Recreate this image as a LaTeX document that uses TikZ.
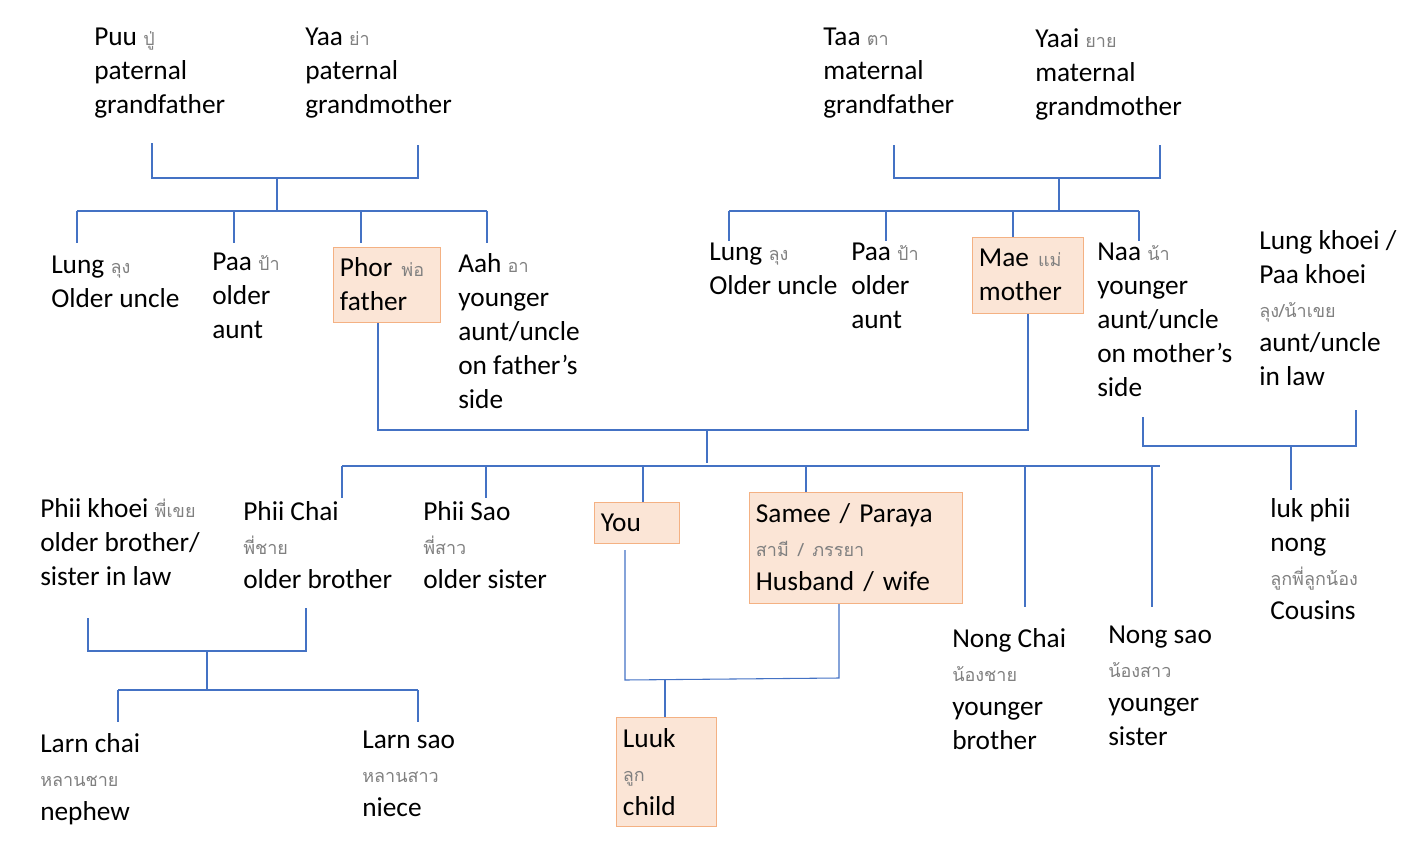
\documentclass[tikz,border=0pt]{standalone}
\usepackage{fontspec}
\setmainfont{Carlito}
\newfontfamily\thaifont[Script=Thai]{Loma}
\usetikzlibrary{backgrounds}
\definecolor{linkblue}{HTML}{4472C4}
\definecolor{boxfill}{HTML}{FBE5D6}
\definecolor{boxline}{HTML}{F4B183}
\newcommand{\thai}[1]{{\thaifont\fontsize{13.5}{15}\selectfont\color{gray}#1}}
\begin{document}
\begin{tikzpicture}[x=0.75pt,y=-0.75pt,
	word/.style={anchor=north west,inner sep=0pt,align=left,
		font=\fontsize{20.5}{25.5}\selectfont},
	kin box/.style={word,draw=boxline,fill=boxfill,inner xsep=5pt,inner ysep=4pt,anchor=north west},
	link/.style={draw=linkblue,line width=0.8pt}]
	\useasboundingbox (0,0) rectangle (1413,846);
	% grandparents
	\node[word](puu) at (94,28){Puu \thai{ปู่}\\paternal\\grandfather};
	\node[word](yaa) at (305,28){Yaa \thai{ย่า}\\paternal\\grandmother};
	\node[word](taa) at (823,28){Taa \thai{ตา}\\maternal\\grandfather};
	\node[word](yaai) at (1035,28){Yaai \thai{ยาย}\\maternal\\grandmother};
	% parents generation
	\node[word](lung) at (51,256){Lung \thai{ลุง}\\Older uncle};
	\node[word](paa) at (212,253){Paa \thai{ป้า}\\older\\aunt};
	\node[kin box,text width=70pt,minimum height=56pt](phor) at (333,247){Phor \thai{พ่อ}\\father};
	\node[word](aah) at (458,253){Aah \thai{อา}\\younger\\aunt/uncle\\on father’s\\side};
	\node[word](lungm) at (709,243){Lung \thai{ลุง}\\Older uncle};
	\node[word](paam) at (851,243){Paa \thai{ป้า}\\older\\aunt};
	\node[kin box,text width=73pt,minimum height=57pt](mae) at (972,237){Mae \thai{แม่}\\mother};
	\node[word](naa) at (1097,243){Naa \thai{น้า}\\younger\\aunt/uncle\\on mother’s\\side};
	\node[word](khoei) at (1259,230){Lung khoei /\\Paa khoei\\\thai{ลุง/น้าเขย}\\aunt/uncle\\in law};
	% own generation
	\node[word](phiikhoei) at (40,498){Phii khoei \thai{พี่เขย}\\older brother/\\sister in law};
	\node[word](phiichai) at (243,501){Phii Chai\\\thai{พี่ชาย}\\older brother};
	\node[word](phiisao) at (423,501){Phii Sao\\\thai{พี่สาว}\\older sister};
	\node[kin box,text width=54pt,minimum height=31pt](you) at (594,502){You};
	\node[kin box,text width=150pt,minimum height=83pt](samee) at (749,492){Samee / Paraya\\\thai{สามี / ภรรยา}\\Husband / wife};
	\node[word](nongchai) at (952,628){Nong Chai\\\thai{น้องชาย}\\younger\\brother};
	\node[word](nongsao) at (1108,626){Nong sao\\\thai{น้องสาว}\\younger\\sister};
	\node[word](cousins) at (1270,498){luk phii\\nong\\\thai{ลูกพี่ลูกน้อง}\\Cousins};
	% children
	\node[word](larnchai) at (40,733){Larn chai\\\thai{หลานชาย}\\nephew};
	\node[word](larnsao) at (362,731){Larn sao\\\thai{หลานสาว}\\niece};
	\node[kin box,text width=65pt,minimum height=82pt](luuk) at (616,717){Luuk\\\thai{ลูก}\\child};
	\begin{scope}[on background layer]
	% paternal family lines
	\draw[link] (152,143) -- (152,178) -- (418,178) -- (418,145);
	\draw[link] (277,178) -- (277,211);
	\draw[link] (77,211) -- (487,211);
	\foreach \x in {77,234,361,487} \draw[link] (\x,211) -- (\x,243);
	% maternal family lines
	\draw[link] (894,145) -- (894,178) -- (1160,178) -- (1160,145);
	\draw[link] (1059,178) -- (1059,211);
	\draw[link] (729,211) -- (1139,211);
	\foreach \x in {729,886,1013,1139} \draw[link] (\x,211) -- (\x,241);
	% parents to children
	\draw[link] (phor.south -| 378,0) -- (378,430) -- (1028,430) -- (mae.south -| 1028,0);
	\draw[link] (707,430) -- (707,463);
	\draw[link] (342,466) -- (1160,466);
	\foreach \x/\y in {342/498,486/498,643/502,806/520,1025/607,1152/607} \draw[link] (\x,466) -- (\x,\y);
	% in law to cousins
	\draw[link] (1143,417) -- (1143,446) -- (1356,446) -- (1356,410);
	\draw[link] (1291,446) -- (1291,490);
	% siblings to nephew and niece
	\draw[link] (88,618) -- (88,651) -- (306,651) -- (306,608);
	\draw[link] (207,651) -- (207,690);
	\draw[link] (118,690) -- (418,690);
	\draw[link] (118,690) -- (118,722);
	\draw[link] (418,690) -- (418,722);
	% you and spouse to child
	\draw[link] (625,550) -- (625,680) -- (839,678) -- (samee.south -| 839,0);
	\draw[link] (665,680) -- (luuk.north -| 665,0);
	\end{scope}
\end{tikzpicture}
\end{document}
